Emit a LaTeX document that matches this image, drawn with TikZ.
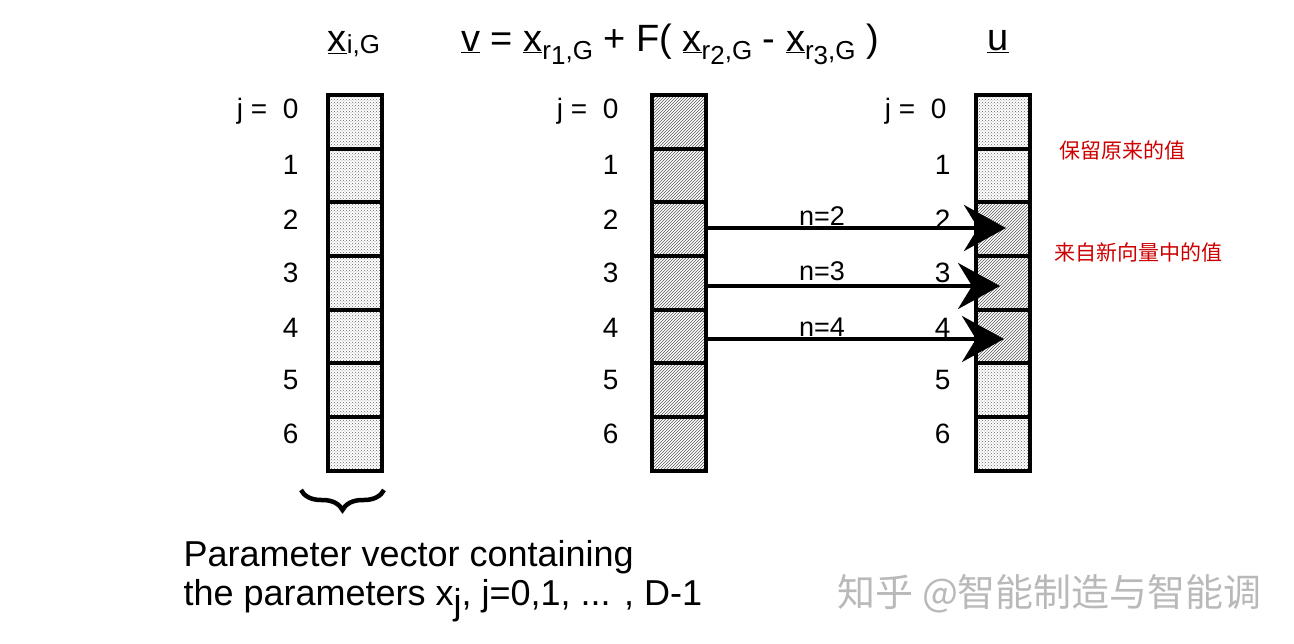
\documentclass[tikz,border=0pt]{standalone}
\usepackage{fontspec}
\setmainfont{Liberation Sans}
\newfontfamily\cjk{Noto Sans CJK SC}
\usetikzlibrary{patterns,arrows.meta,decorations.pathreplacing}
\newcommand{\ul}[1]{\underline{#1}}
\begin{document}
\begin{tikzpicture}[x=1pt,y=-1pt,
 cellA/.style={draw,line width=4pt,pattern=crosshatch dots,pattern color=gray!80!black,minimum width=54pt,minimum height=53.7pt,inner sep=0pt,anchor=north west},
 cellB/.style={draw,line width=4pt,pattern=north east lines,pattern color=gray!70!black,minimum width=54pt,minimum height=53.7pt,inner sep=0pt,anchor=north west},
 idx/.style={anchor=east,font=\fontsize{28}{30}\selectfont},
 lab/.style={font=\fontsize{27}{29}\selectfont},
 big/.style={font=\fontsize{36}{38}\selectfont},
 ttl/.style={font=\fontsize{38}{40}\selectfont},
 arr/.style={line width=4pt,-{Stealth[length=42pt,width=46pt,inset=14pt]}},
 cn/.style={text=red!80!black,font=\cjk\fontsize{21}{23}\selectfont,anchor=west}]
\useasboundingbox (0,0) rectangle (1294,644);
\foreach \i in {0,...,6}{
 \node[cellA] (a\i) at (326,{93+53.7*\i}) {};
 \node[cellB] (b\i) at (650,{93+53.7*\i}) {};
 \ifnum\i<2 \node[cellA] (c\i) at (974,{93+53.7*\i}) {};
 \else\ifnum\i>4 \node[cellA] (c\i) at (974,{93+53.7*\i}) {};
 \else \node[cellB] (c\i) at (974,{93+53.7*\i}) {};\fi\fi
}
\node[idx] at (302,111) {j = \ 0};
\node[idx] at (622,111) {j = \ 0};
\node[idx] at (950,111) {j = \ 0};
\foreach \i/\y in {1/165,2/220,3/273,4/328,5/380,6/434}{
 \node[idx] at (302,\y) {\i};
 \node[idx] at (622,\y) {\i};
 \node[idx] at (954,\y) {\i};
}
\node[ttl] (xi) at (354,44) {\ul{x}\raisebox{-2pt}{\fontsize{26}{28}\selectfont i,G}};
\node[ttl] (eq) at (670,44) {\ul{v} = \ul{x}\raisebox{-8pt}{\fontsize{26}{28}\selectfont r\raisebox{-5pt}{1},G} + F( \ul{x}\raisebox{-8pt}{\fontsize{26}{28}\selectfont r\raisebox{-5pt}{2},G} - \ul{x}\raisebox{-8pt}{\fontsize{26}{28}\selectfont r\raisebox{-5pt}{3},G} )};
\node[ttl] (u) at (998,42) {\ul{u}};
\coordinate (e2) at (1006,228);
\coordinate (e3) at (1000,286);
\coordinate (e4) at (1004,339);
\draw[arr] (b2.east |- e2) -- (e2);
\draw[arr] (b3.east |- e3) -- (e3);
\draw[arr] (b4.east |- e4) -- (e4);
\node[lab] at (822,216) {n=2};
\node[lab] at (822,271) {n=3};
\node[lab] at (822,327) {n=4};
\draw[line width=4.5pt,decorate,decoration={brace,amplitude=20pt,mirror}] (301,490) -- (384,490);
\node[big,anchor=west] (p1) at (180,557) {Parameter vector containing};
\node[big,anchor=west] (p2) at (180,601) {the parameters x\raisebox{-9pt}{j}, j=0,1, ... , D-1};
\node[cn] at (1056,150) {保留原来的值};
\node[cn] at (1051,252) {来自新向量中的值};
\node[anchor=west,text=gray!55,font=\cjk\fontsize{38}{40}\selectfont] at (834,594) {知乎 @智能制造与智能调};
\end{tikzpicture}
\end{document}
